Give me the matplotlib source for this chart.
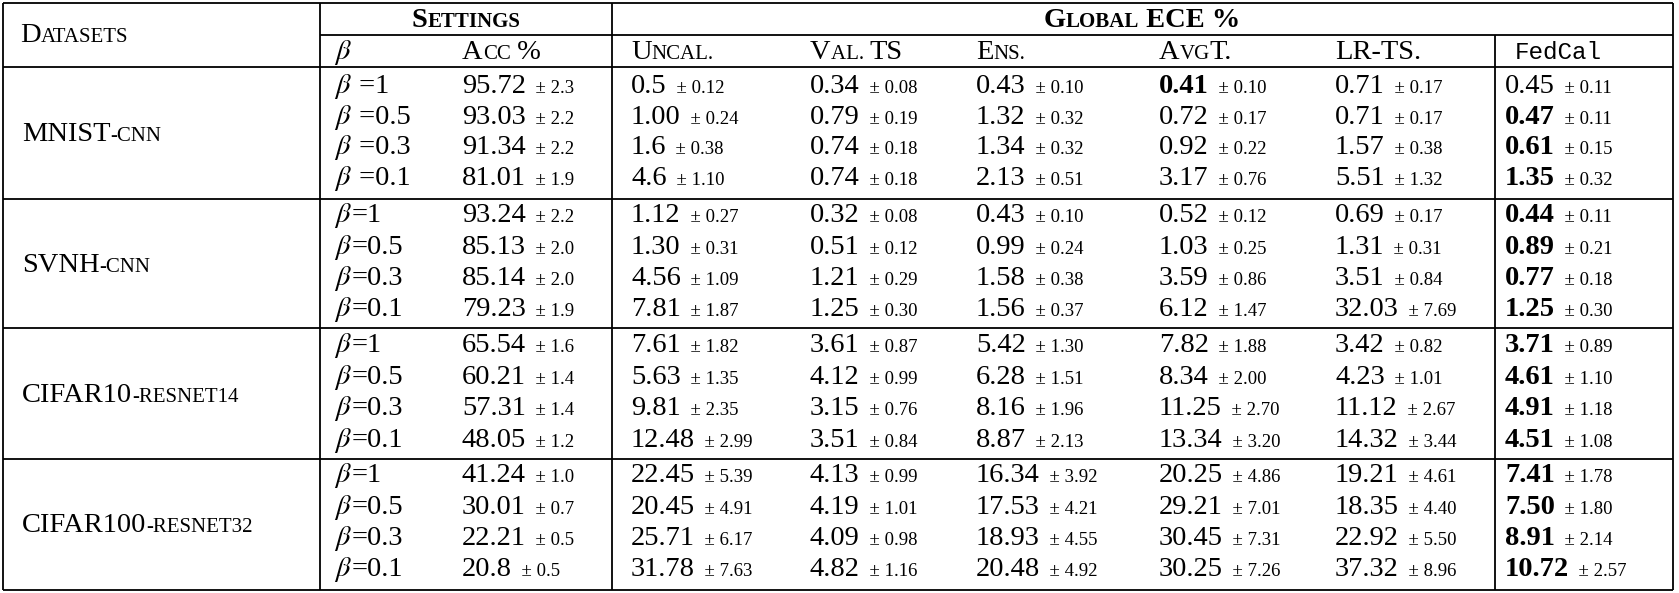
import matplotlib
matplotlib.use("Agg")
import matplotlib.pyplot as plt

plt.rcParams['mathtext.fontset'] = 'stix'
SERIF = 'Liberation Serif'
MONO = 'Liberation Mono'

datasets = [("MNIST", "-CNN"), ("SVNH", "-CNN"), ("CIFAR10", "-RESNET14"), ("CIFAR100", "-RESNET32")]
betas = ["1", "0.5", "0.3", "0.1"]
acc = [[95.72, 93.03, 91.34, 81.01], [93.24, 85.13, 85.14, 79.23],
       [65.54, 60.21, 57.31, 48.05], [41.24, 30.01, 22.21, 20.8]]
acc_sd = [[2.3, 2.2, 2.2, 1.9], [2.2, 2.0, 2.0, 1.9], [1.6, 1.4, 1.4, 1.2], [1.0, 0.7, 0.5, 0.5]]

# value strings per method, per dataset (4 betas each)
uncal = [["0.5", "1.00", "1.6", "4.6"], ["1.12", "1.30", "4.56", "7.81"],
         ["7.61", "5.63", "9.81", "12.48"], ["22.45", "20.45", "25.71", "31.78"]]
uncal_sd = [["0.12", "0.24", "0.38", "1.10"], ["0.27", "0.31", "1.09", "1.87"],
            ["1.82", "1.35", "2.35", "2.99"], ["5.39", "4.91", "6.17", "7.63"]]
valts = [["0.34", "0.79", "0.74", "0.74"], ["0.32", "0.51", "1.21", "1.25"],
         ["3.61", "4.12", "3.15", "3.51"], ["4.13", "4.19", "4.09", "4.82"]]
valts_sd = [["0.08", "0.19", "0.18", "0.18"], ["0.08", "0.12", "0.29", "0.30"],
            ["0.87", "0.99", "0.76", "0.84"], ["0.99", "1.01", "0.98", "1.16"]]
ens = [["0.43", "1.32", "1.34", "2.13"], ["0.43", "0.99", "1.58", "1.56"],
       ["5.42", "6.28", "8.16", "8.87"], ["16.34", "17.53", "18.93", "20.48"]]
ens_sd = [["0.10", "0.32", "0.32", "0.51"], ["0.10", "0.24", "0.38", "0.37"],
          ["1.30", "1.51", "1.96", "2.13"], ["3.92", "4.21", "4.55", "4.92"]]
avgt = [["0.41", "0.72", "0.92", "3.17"], ["0.52", "1.03", "3.59", "6.12"],
        ["7.82", "8.34", "11.25", "13.34"], ["20.25", "29.21", "30.45", "30.25"]]
avgt_sd = [["0.10", "0.17", "0.22", "0.76"], ["0.12", "0.25", "0.86", "1.47"],
           ["1.88", "2.00", "2.70", "3.20"], ["4.86", "7.01", "7.31", "7.26"]]
lrts = [["0.71", "0.71", "1.57", "5.51"], ["0.69", "1.31", "3.51", "32.03"],
        ["3.42", "4.23", "11.12", "14.32"], ["19.21", "18.35", "22.92", "37.32"]]
lrts_sd = [["0.17", "0.17", "0.38", "1.32"], ["0.17", "0.31", "0.84", "7.69"],
           ["0.82", "1.01", "2.67", "3.44"], ["4.61", "4.40", "5.50", "8.96"]]
fedcal = [["0.45", "0.47", "0.61", "1.35"], ["0.44", "0.89", "0.77", "1.25"],
          ["3.71", "4.61", "4.91", "4.51"], ["7.41", "7.50", "8.91", "10.72"]]
fedcal_sd = [["0.11", "0.11", "0.15", "0.32"], ["0.11", "0.21", "0.18", "0.30"],
             ["0.89", "1.10", "1.18", "1.08"], ["1.78", "1.80", "2.14", "2.57"]]
# bold cells: (method index, dataset, row)
bold = {(3, 0, 0), (5, 0, 1), (5, 0, 2), (5, 0, 3)} | {(5, d, r) for d in (1, 2, 3) for r in range(4)}

methods = [(uncal, uncal_sd), (valts, valts_sd), (ens, ens_sd), (avgt, avgt_sd), (lrts, lrts_sd), (fedcal, fedcal_sd)]

W, H = 1679, 593
fig = plt.figure(figsize=(W / 100, H / 100), dpi=100)
ax = fig.add_axes([0, 0, 1, 1])
ax.set_xlim(0, W)
ax.set_ylim(H, 0)
ax.axis('off')
renderer = fig.canvas.get_renderer()

BIG, SMALL, SC = 20.5, 13.5, 15


def pieces(x, y, parts, ha='left'):
    # parts: list of (text, size, weight, family)
    items = []
    total = 0
    for txt, size, weight, fam in parts:
        t = ax.text(0, y, txt, fontsize=size, fontweight=weight, family=fam, va='baseline')
        w = t.get_window_extent(renderer).width
        items.append((t, w))
        total += w
    if ha == 'center':
        x = x - total / 2
    for t, w in items:
        t.set_x(x)
        x += w


def line(x0, x1, y0, y1, lw=1.3):
    ax.plot([x0, x1], [y0, y1], color='black', lw=lw, solid_capstyle='butt')


# grid
xl, xd, xs, xf, xr = 3, 320, 612, 1495, 1673
yt, yh1, yh2, yb = 3, 35, 67, 590
group_y = [yh2, 199, 328, 459, yb]
line(xl, xr, yt, yt)
line(xd, xr, yh1, yh1)
for gy in group_y:
    line(xl, xr, gy, gy)
for x in (xl, xd, xs, xr):
    line(x, x, yt, yb)
line(xf, xf, yh1, yb)

# headers
pieces(20, 42, [("D", BIG, 'normal', SERIF), ("ATASETS", SC, 'normal', SERIF)])
pieces(466, 27, [("S", BIG, 'bold', SERIF), ("ETTINGS", SC, 'bold', SERIF)], ha='center')
pieces(1142, 27, [("G", BIG, 'bold', SERIF), ("LOBAL", SC, 'bold', SERIF), (" ECE %", BIG, 'bold', SERIF)], ha='center')
pieces(334, 59, [(r"$\beta$", BIG, 'normal', SERIF)])
pieces(462, 59, [("A", BIG, 'normal', SERIF), ("CC", SC, 'normal', SERIF), (" %", BIG, 'normal', SERIF)])
col_x = [631, 810, 976, 1159, 1335, 1515]
heads = [[("U", BIG), ("NCAL.", SC)], [("V", BIG), ("AL. ", SC), ("TS", BIG)], [("E", BIG), ("NS.", SC)],
         [("A", BIG), ("VG", SC), ("T.", BIG)], [("LR-TS.", BIG)]]
for cx, h in zip(col_x, heads):
    pieces(cx, 59, [(t, s, 'normal', SERIF) for t, s in h])
pieces(col_x[5], 59, [("FedCal", 17.5, 'normal', MONO)])

row_y = [[93, 124, 154, 185], [222, 254, 285, 316], [352, 384, 415, 447], [482, 514, 545, 576]]
for d, (name, sub) in enumerate(datasets):
    mid = (group_y[d] + group_y[d + 1]) / 2 + 8
    pieces(22, mid, [(name, BIG, 'normal', SERIF), (sub, SC, 'normal', SERIF)])
    for r in range(4):
        y = row_y[d][r]
        sep = " =" if d == 0 else "="
        pieces(334, y, [(r"$\beta$", BIG, 'normal', SERIF), (sep + betas[r], BIG, 'normal', SERIF)])
        pieces(462, y, [(f"{acc[d][r]}", BIG, 'normal', SERIF), (f"  \u00b1 {acc_sd[d][r]}", SMALL, 'normal', SERIF)])
        for m, (vals, sds) in enumerate(methods):
            w = 'bold' if (m, d, r) in bold else 'normal'
            cx = col_x[m] if m < 5 else 1505
            pieces(cx, y, [(vals[d][r], BIG, w, SERIF), (f"  \u00b1 {sds[d][r]}", SMALL, 'normal', SERIF)])

fig.savefig("out.png", dpi=100, facecolor='white')
